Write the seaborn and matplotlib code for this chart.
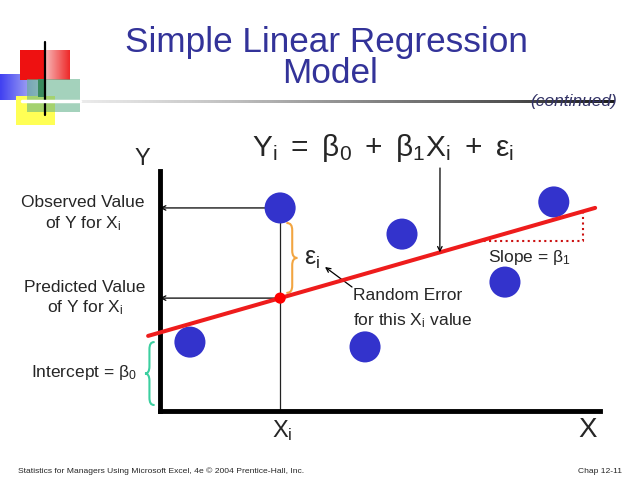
import numpy as np
import matplotlib
matplotlib.use('Agg')
import matplotlib.pyplot as plt
import seaborn as sns
from matplotlib.patches import Rectangle, PathPatch
from matplotlib.path import Path
from matplotlib.colors import LinearSegmentedColormap

# Observed points (arbitrary units, x 0-10, y 0-10)
x_obs = [0.68, 2.73, 4.66, 5.50, 7.84, 8.95]
y_obs = [2.85, 8.44, 2.65, 7.35, 5.35, 8.69]

# Regression line
b0 = 3.25
b1 = 0.525
x_line = [-0.27, 9.89]

# The highlighted observation X_i
xi_idx = 1

sns.set_style('white')
plt.rcParams['font.family'] = ['Liberation Sans', 'DejaVu Sans']
plt.rcParams['mathtext.fontset'] = 'custom'
plt.rcParams['mathtext.rm'] = 'Liberation Sans'
plt.rcParams['mathtext.it'] = 'Liberation Sans:italic'
plt.rcParams['mathtext.bf'] = 'Liberation Sans:bold'

navy = '#333399'
blue = '#3333CC'
red = '#EE1C1C'

fig = plt.figure(figsize=(6.38, 4.79), dpi=100)

# background axes in pixel units for the slide decoration
bg = fig.add_axes([0, 0, 1, 1])
bg.axis('off')

# --- logo ---
bg.add_patch(Rectangle((16, 96), 39, 29, color='#FFFF55', lw=0))
bg.add_patch(Rectangle((20, 50), 25, 30, color='#EE1111', lw=0))
bg.imshow(np.linspace(0, 1, 50)[None, :], extent=(45, 70, 80, 50), aspect='auto',
          cmap=LinearSegmentedColormap.from_list('rg', ['#F7B8B8', '#EE2A2A']))
bg.imshow(np.linspace(0, 1, 50)[None, :], extent=(0, 40, 100, 74), aspect='auto', alpha=0.9,
          cmap=LinearSegmentedColormap.from_list('bg', ['#2B2BF0', '#B8BCF4']))
bg.add_patch(Rectangle((27, 79), 53, 33, color='#5AAE86', alpha=0.55, lw=0))
bg.add_patch(Rectangle((38, 79), 7, 18, color='#3A8A5E', lw=0))
bg.plot([45, 45], [42, 115], color='black', lw=1.6)
bg.plot([22, 80], [101, 101], color='white', lw=2.5)
bg.imshow(np.linspace(0.15, 0.9, 200)[None, :], extent=(80, 615, 102.5, 99.5),
          aspect='auto', cmap='Greys', vmin=0, vmax=1)

# --- title ---
bg.text(326, 52, 'Simple Linear Regression', ha='center', va='baseline',
        fontsize=25.3, color=navy)
bg.text(330, 83, 'Model', ha='center', va='baseline', fontsize=25.3, color=navy)
bg.text(617, 101, '(continued)', ha='right', va='center', fontsize=12.5,
        style='italic', color='#333366')

# --- footer ---
bg.text(18, 473, 'Statistics for Managers Using Microsoft Excel, 4e \u00a9 2004 Prentice-Hall, Inc.',
        ha='left', va='baseline', fontsize=6.1)
bg.text(622, 473, 'Chap 12-11', ha='right', va='baseline', fontsize=6.1)

# --- labels ---
bg.text(252, 156, r'$\mathregular{Y_i\ =\ \beta_0\ +\ \beta_1X_i\ +\ \varepsilon_i}$',
        ha='left', va='baseline', fontsize=21.5)
bg.text(142, 165, 'Y', ha='center', va='baseline', fontsize=17)
bg.text(588, 437, 'X', ha='center', va='baseline', fontsize=20)
bg.text(272, 437, r'$\mathregular{X_i}$', ha='left', va='baseline', fontsize=17)
bg.text(83, 207, 'Observed Value', ha='center', va='baseline', fontsize=12.5)
bg.text(83, 228, r'of Y for $\mathregular{X_i}$', ha='center', va='baseline', fontsize=12.5)
bg.text(85, 292, 'Predicted Value', ha='center', va='baseline', fontsize=12.5)
bg.text(85, 312, r'of Y for $\mathregular{X_i}$', ha='center', va='baseline', fontsize=12.5)
bg.text(31, 377, r'Intercept = $\mathregular{\beta_0}$', ha='left', va='baseline', fontsize=12.5)
bg.text(304, 265, r'$\mathregular{\varepsilon_i}$', ha='left', va='baseline', fontsize=18)
bg.text(488, 262, r'Slope = $\mathregular{\beta_1}$', ha='left', va='baseline', fontsize=12.5)
bg.text(353, 300, 'Random Error', ha='left', va='baseline', fontsize=12.5)
bg.text(353, 325, r'for this $\mathregular{X_i}$ value', ha='left', va='baseline', fontsize=12.5)
bg.annotate('', xy=(325, 267), xytext=(352, 287),
            arrowprops=dict(arrowstyle='->', lw=0.9, color='black',
                            shrinkA=0, shrinkB=0, mutation_scale=8))

bg.set_xlim(0, 638)
bg.set_ylim(479, 0)

# --- main diagram axes ---
ax = fig.add_axes([160 / 638, (479 - 410.5) / 479, 440 / 638, 240 / 479])
ax.patch.set_alpha(0)
ax.set_xlim(0, 10)
ax.set_ylim(0, 10)
ax.set_xticks([])
ax.set_yticks([])
sns.despine(ax=ax)
for side in ['left', 'bottom']:
    ax.spines[side].set_linewidth(3.5)
    ax.spines[side].set_color('black')
    ax.spines[side].set_capstyle('projecting')

xi = x_obs[xi_idx]
yi = y_obs[xi_idx]
yhat = b0 + b1 * xi
y_line = [b0 + b1 * x for x in x_line]

# guide lines
ax.plot([xi, xi], [0, yi], color='#222222', lw=0.9, zorder=1)
for yy in [yi, yhat]:
    ax.annotate('', xy=(0, yy), xytext=(xi, yy),
                arrowprops=dict(arrowstyle='->', lw=0.9, color='black',
                                shrinkA=0, shrinkB=0, mutation_scale=8), zorder=1)

sns.scatterplot(x=x_obs, y=y_obs, s=500, color=blue, edgecolor='none', ax=ax, zorder=2)
sns.lineplot(x=x_line, y=y_line, color=red, lw=2.9, ax=ax, zorder=3)
ax.lines[-1].set_clip_on(False)
sns.scatterplot(x=[xi], y=[yhat], s=65, color='#FF0000', edgecolor='none', ax=ax, zorder=4)

# slope triangle
run_x = [7.23, 9.62]
ax.plot([run_x[0], run_x[1], run_x[1]],
        [b0 + b1 * run_x[0], b0 + b1 * run_x[0], b0 + b1 * run_x[1]],
        color='#CC1111', lw=1.5, ls=':', zorder=2)

# arrow from the equation to the line
x_eq = 6.36
ax.annotate('', xy=(x_eq, b0 + b1 * x_eq), xytext=(440, 168), textcoords=bg.transData,
            arrowprops=dict(arrowstyle='->', lw=0.9, color='black',
                            shrinkA=0, shrinkB=0, mutation_scale=8),
            annotation_clip=False)


def brace(ax, x, y0, y1, w, q, color):
    m = (y0 + y1) / 2
    xs = x + w / 2
    verts = [(x, y1), (xs, y1), (xs, y1 - q), (xs, m + q), (xs, m), (x + w, m),
             (xs, m), (xs, m - q), (xs, y0 + q), (xs, y0), (x, y0)]
    codes = [Path.MOVETO, Path.CURVE3, Path.CURVE3, Path.LINETO, Path.CURVE3, Path.CURVE3,
             Path.CURVE3, Path.CURVE3, Path.LINETO, Path.CURVE3, Path.CURVE3]
    ax.add_patch(PathPatch(Path(verts, codes), fill=False, lw=1.5, color=color,
                           clip_on=False, capstyle='round'))


# error brace and intercept brace
brace(ax, 2.89, yhat + 0.22, yi - 0.63, 0.23, 0.3, '#F2A541')
brace(ax, -0.14, 0.23, 2.85, -0.2, 0.3, '#3CCFA0')

plt.savefig('out.png', dpi=100)
